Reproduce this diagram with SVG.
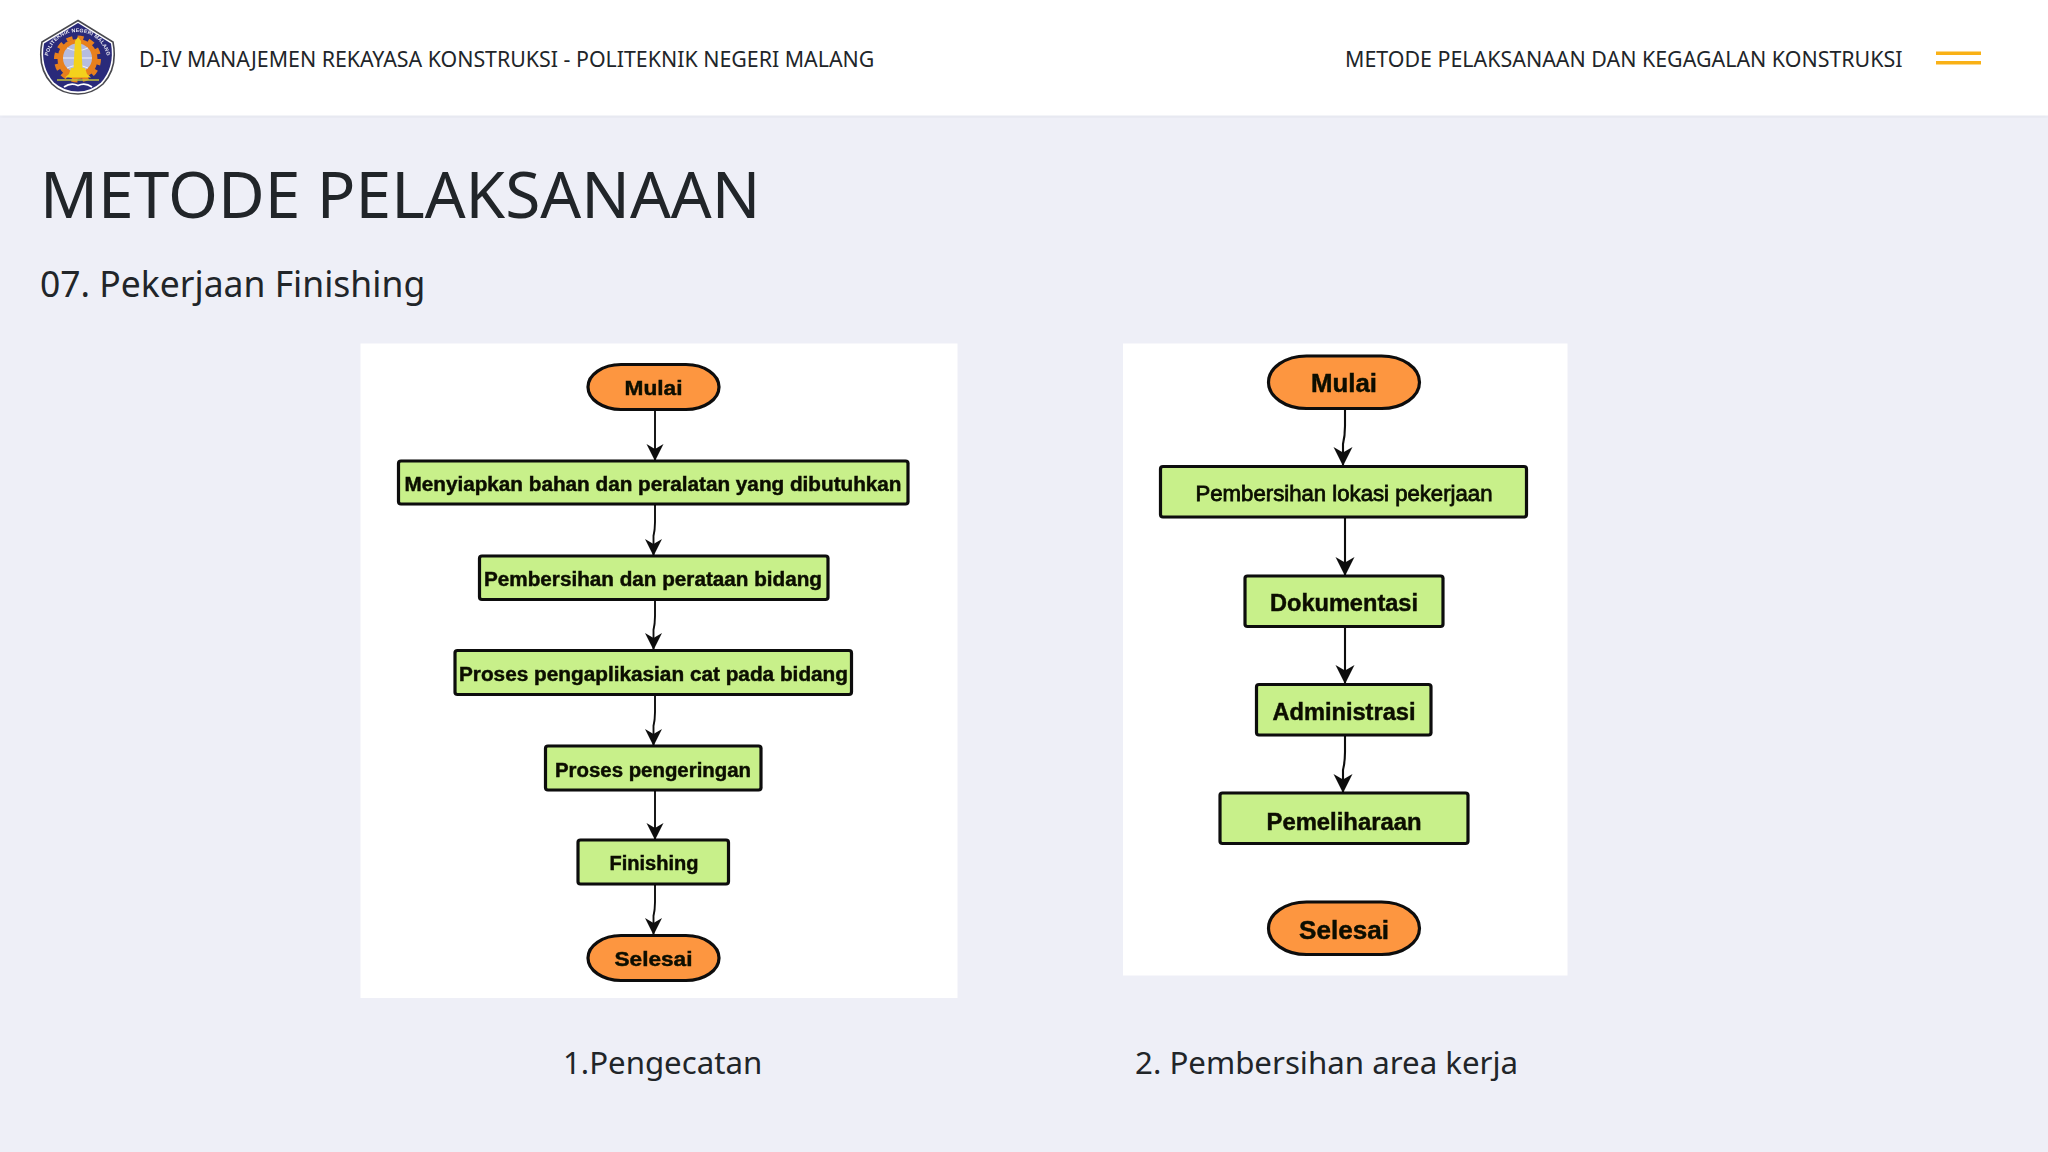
<svg xmlns="http://www.w3.org/2000/svg" xmlns:xlink="http://www.w3.org/1999/xlink" width="2048" height="1152" viewBox="0 0 2048 1152">
<style>
.hd{font-family:"Noto Sans",sans-serif;fill:#212529}
.t{font-family:"Liberation Sans",Arial,sans-serif;font-weight:700;fill:#0a0f00;text-anchor:middle;stroke:#0a0f00;stroke-width:0.45}
.box{fill:#c8f08a;stroke:#0c0c0c;stroke-width:3.2}
.term{fill:#fd9641;stroke:#0c0c0c;stroke-width:3.2}
.c{fill:none;stroke:#111;stroke-width:1.9;marker-end:url(#ah)}
.d{fill:none;stroke:#111;stroke-width:2.1;marker-end:url(#ah2)}
.soft{filter:url(#sf)}
</style>
<defs>
<marker id="ah" markerUnits="userSpaceOnUse" markerWidth="20" markerHeight="18" refX="17" refY="8.500" orient="auto"><path d="M0 0L17 8.500L0 17L5 8.500Z" fill="#111"/></marker>
<marker id="ah2" markerUnits="userSpaceOnUse" markerWidth="22" markerHeight="22" refX="19" refY="9.500" orient="auto"><path d="M0 0L19 9.500L0 19L5.500 9.500Z" fill="#111"/></marker>
<filter id="sf" x="-5%" y="-5%" width="110%" height="110%"><feGaussianBlur stdDeviation="0.45"/></filter>
<filter id="hs" x="-2%" y="-20%" width="104%" height="150%"><feGaussianBlur stdDeviation="2"/></filter>
<path id="arcLogo" d="M47.500 62A30 30 0 0 1 107.500 62"/>
</defs>
<rect width="2048" height="1152" fill="#eeeff7"/>
<rect y="114" width="2048" height="3" fill="#dfe1ea" filter="url(#hs)"/>
<rect width="2048" height="115.500" fill="#fff"/>

<g id="logo" class="soft">
<path d="M78 20.500L113 42Q118 68 103 84Q92 94 78 94Q62 94 52 84Q37 68 42 42Z" fill="#fff" stroke="#4a4a50" stroke-width="1.600"/>
<path d="M78 23L111 43.500Q115 67 101 82.500Q91 91.500 78 91.500Q64 91.500 54 82.500Q40 67 44 43.500Z" fill="#2b2a7a"/>
<text font-family="Liberation Sans,sans-serif" font-size="5.200" font-weight="700" fill="#e8e8f0"><textPath href="#arcLogo" xlink:href="#arcLogo" startOffset="6" textLength="82">POLITEKNIK NEGERI MALANG</textPath></text>
<circle cx="77.500" cy="59" r="20" fill="#e8801f"/>
<circle cx="77.500" cy="59" r="21.500" fill="none" stroke="#e8801f" stroke-width="4" stroke-dasharray="6 5.200"/>
<circle cx="77.500" cy="58" r="14.500" fill="#b5bce0"/>
<path d="M63 58H92M77.500 43.500V72.500M67 48Q77.500 53 88 48M67 68Q77.500 63 88 68" stroke="#fff" fill="none" stroke-width="0.800"/>
<path d="M75 41L78 37L81 41L82.500 68H73.500Z" fill="#f3d21f"/>
<path d="M69 74L71 68H85L87 74L91 77.500H65Z" fill="#f3d21f"/>
<path d="M57 80H99" stroke="#c5c23a" stroke-width="1.500"/>
<path d="M64 87Q71 82 78 85.500Q85 82 92 87" fill="none" stroke="#fff" stroke-width="1.800"/>
</g>

<g id="header-left"><text class="hd" x="139" y="67" font-size="21.350">D-IV MANAJEMEN REKAYASA KONSTRUKSI - POLITEKNIK NEGERI MALANG</text></g>
<g id="header-right"><text class="hd" x="1345" y="67" font-size="21.400">METODE PELAKSANAAN DAN KEGAGALAN KONSTRUKSI</text></g>
<g id="menu"><rect x="1936" y="51.500" width="45" height="3.500" fill="#f9b116"/><rect x="1936" y="61" width="45" height="3.500" fill="#f9b116"/></g>

<g id="title"><text class="hd" x="40" y="218" font-size="64">METODE PELAKSANAAN</text></g>
<g id="subtitle"><text class="hd" x="40" y="297" font-size="35.500">07. Pekerjaan Finishing</text></g>

<g id="panel-1"><rect x="360.500" y="343.500" width="597" height="654.500" fill="#fff"/></g>
<g id="panel-2"><rect x="1123" y="343.500" width="444.500" height="632" fill="#fff"/></g>

<g id="connectors" class="soft">
<path class="c" d="M655 411V461"/>
<path class="c" d="M655 505V522Q655 530 653.500 536V556"/>
<path class="c" d="M655 601V616Q655 624 653.500 630V650"/>
<path class="c" d="M655 696V712Q655 720 653.500 726V746"/>
<path class="c" d="M655 791V840"/>
<path class="c" d="M655 885V902Q655 910 653.500 916V935"/>
<path class="d" d="M1345 410V426Q1345 436 1343 444V466"/>
<path class="d" d="M1345 518V576"/>
<path class="d" d="M1345 627V684"/>
<path class="d" d="M1345 736V752Q1345 762 1343 770V793"/>
</g>

<g class="soft">
<g id="l-mulai"><rect class="term" x="588" y="364.500" width="131" height="45" rx="33" ry="22.500"/><text class="t" x="653.500" y="395" font-size="21" textLength="58" lengthAdjust="spacingAndGlyphs">Mulai</text></g>
<g id="l-bahan"><rect class="box" x="398.500" y="461" width="509.500" height="43" rx="2.500"/><text class="t" x="653" y="490.500" font-size="20" textLength="497" lengthAdjust="spacingAndGlyphs">Menyiapkan bahan dan peralatan yang dibutuhkan</text></g>
<g id="l-bersih"><rect class="box" x="479.500" y="556" width="348.500" height="43.500" rx="2.500"/><text class="t" x="653" y="585.500" font-size="20" textLength="338" lengthAdjust="spacingAndGlyphs">Pembersihan dan perataan bidang</text></g>
<g id="l-cat"><rect class="box" x="455" y="650.500" width="396.500" height="44" rx="2.500"/><text class="t" x="653.500" y="680.500" font-size="20" textLength="389" lengthAdjust="spacingAndGlyphs">Proses pengaplikasian cat pada bidang</text></g>
<g id="l-kering"><rect class="box" x="545.500" y="746" width="215.500" height="44" rx="2.500"/><text class="t" x="653" y="776.500" font-size="20" textLength="196" lengthAdjust="spacingAndGlyphs">Proses pengeringan</text></g>
<g id="l-finishing"><rect class="box" x="578" y="840" width="150.500" height="44" rx="2.500"/><text class="t" x="654" y="869.500" font-size="20" textLength="89" lengthAdjust="spacingAndGlyphs">Finishing</text></g>
<g id="l-selesai"><rect class="term" x="588" y="935.500" width="131" height="45" rx="33" ry="22.500"/><text class="t" x="653.500" y="966" font-size="21" textLength="78" lengthAdjust="spacingAndGlyphs">Selesai</text></g>

<g id="r-mulai"><rect class="term" x="1268.500" y="356" width="151" height="52.500" rx="38" ry="26.250"/><text class="t" x="1344" y="392" font-size="25" textLength="66" lengthAdjust="spacingAndGlyphs">Mulai</text></g>
<g id="r-lokasi"><rect class="box" x="1160.500" y="466.500" width="366" height="50.500" rx="2.500"/><text class="t" x="1344" y="501" font-size="22.500" style="font-weight:400;stroke-width:0.8" textLength="297" lengthAdjust="spacingAndGlyphs">Pembersihan lokasi pekerjaan</text></g>
<g id="r-dok"><rect class="box" x="1245" y="576" width="198" height="50.500" rx="2.500"/><text class="t" x="1344" y="611" font-size="23" textLength="148" lengthAdjust="spacingAndGlyphs">Dokumentasi</text></g>
<g id="r-adm"><rect class="box" x="1256.500" y="684.500" width="174.500" height="50.500" rx="2.500"/><text class="t" x="1344" y="720" font-size="23" textLength="143" lengthAdjust="spacingAndGlyphs">Administrasi</text></g>
<g id="r-pem"><rect class="box" x="1220" y="793" width="248" height="50.500" rx="2.500"/><text class="t" x="1344" y="829.500" font-size="23" textLength="155" lengthAdjust="spacingAndGlyphs">Pemeliharaan</text></g>
<g id="r-selesai"><rect class="term" x="1268.500" y="902" width="151" height="52.500" rx="38" ry="26.250"/><text class="t" x="1344" y="938.500" font-size="25" textLength="90" lengthAdjust="spacingAndGlyphs">Selesai</text></g>
</g>

<g id="caption-1"><text class="hd" x="563" y="1074" font-size="31.200">1.Pengecatan</text></g>
<g id="caption-2"><text class="hd" x="1135" y="1074" font-size="31.250">2. Pembersihan area kerja</text></g>
</svg>
